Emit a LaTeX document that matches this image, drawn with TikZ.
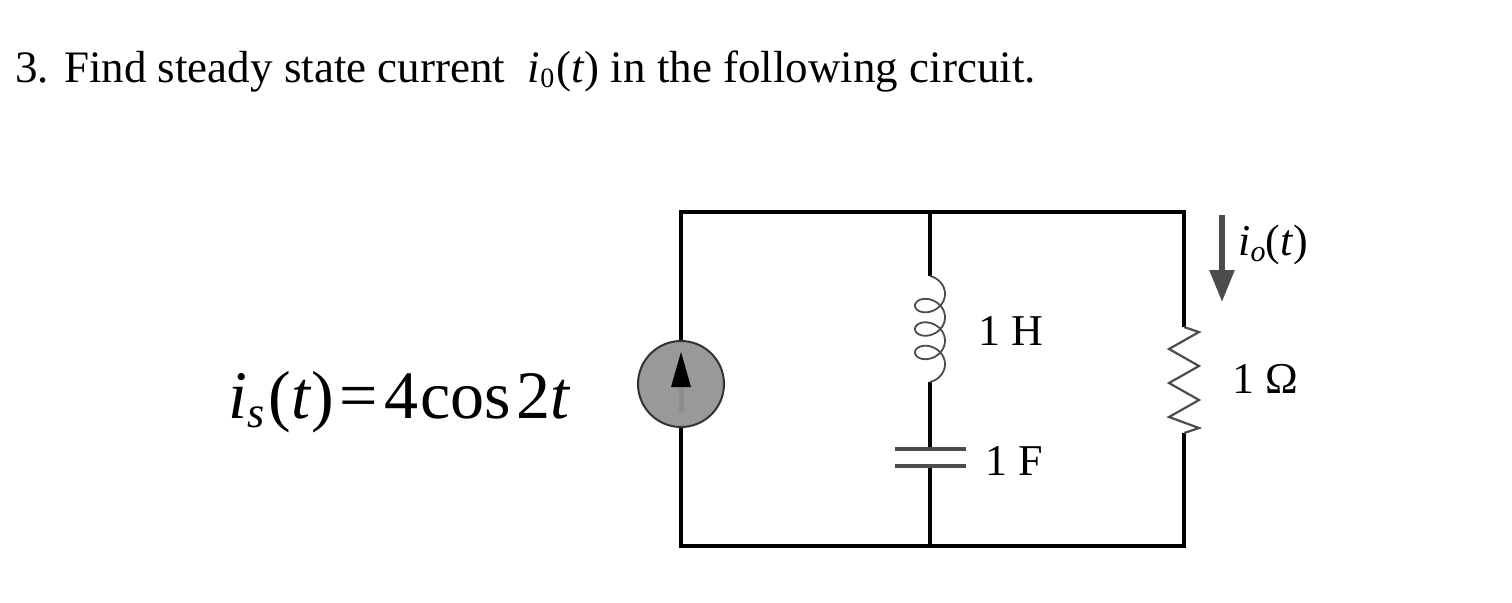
\documentclass[tikz,border=0pt]{standalone}
\usepackage{fontspec}
\setmainfont{Liberation Serif}
\usetikzlibrary{arrows.meta}
\begin{document}
\begin{tikzpicture}[x=0.5pt,y=-0.5pt,
  wire/.style={line width=1.6pt,black},
  comp/.style={line width=1.1pt,black!70},
  lbl/.style={font=\fontsize{22}{25}\selectfont,inner sep=0pt}]
\useasboundingbox (0,0) rectangle (1512,602);
\node[anchor=base west,font=\fontsize{22.5}{26}\selectfont,inner sep=0pt] (title) at (15,82) {3. Find steady state current \ \textit{i}\raisebox{-0.25ex}{\fontsize{14}{16}\selectfont 0}\kern1pt(\textit{t}) in the following circuit.};
\node[anchor=base west,font=\fontsize{34}{38}\selectfont,inner sep=0pt] (is) at (228,418) {\textit{i}\raisebox{-0.3ex}{\fontsize{22}{24}\selectfont\textit{s}}\kern2pt(\textit{t})\kern3pt=\kern3pt4\kern1pt cos\kern3pt2\textit{t}};
\coordinate (tl) at (681,212); \coordinate (tm) at (930,212); \coordinate (tr) at (1184,212);
\coordinate (bl) at (681,546); \coordinate (bm) at (930,546); \coordinate (br) at (1184,546);
\node[circle,draw=black!80,line width=1pt,fill=black!40,minimum size=43pt,inner sep=0pt] (src) at (681,384) {};
\coordinate (L1) at (930,276); \coordinate (L2) at (930,382);
\coordinate (C1) at (930,449); \coordinate (C2) at (930,466);
\coordinate (R1) at (1184,327); \coordinate (R2) at (1184,433);
\draw[wire] (src.north) -- (tl) -- (tm) -- (tr) -- (R1);
\draw[wire] (src.south) -- (bl) -- (bm) -- (br) -- (R2);
\draw[wire] (tm) -- (L1); \draw[wire] (L2) -- (C1); \draw[wire] (C2) -- (bm);
\draw[comp,line width=0.9pt,smooth,samples=200,domain=0:21.99] plot ({930+15*sin(\x r)},{276+3.73*\x+12*(1-cos(\x r))});
\draw[comp,line width=1.8pt] (895,449) -- (966,449);
\draw[comp,line width=1.8pt] (895,466) -- (966,466);
\draw[comp] (R1) -- (1199,332) -- (1169,349) -- (1199,366) -- (1169,383) -- (1199,400) -- (1169,417) -- (1199,428) -- (R2);
\draw[line width=2.5pt,black!45] (681,412) -- (681,385);
\fill[black] (671,387) -- (681,352) -- (691,387) -- cycle;
\draw[line width=2.8pt,black!70,-{Triangle[length=16pt,width=12pt]}] (1222,215) -- (1222,302);
\node[lbl,anchor=west] (io) at (1238,245) {\textit{i}\raisebox{-0.3ex}{\fontsize{15}{17}\selectfont\textit{o}}(\textit{t})};
\node[lbl,anchor=west] (lh) at (978,331) {1 H};
\node[lbl,anchor=west] (lf) at (985,461) {1 F};
\node[lbl,anchor=west] (lr) at (1232,379) {1 Ω};
\end{tikzpicture}
\end{document}
